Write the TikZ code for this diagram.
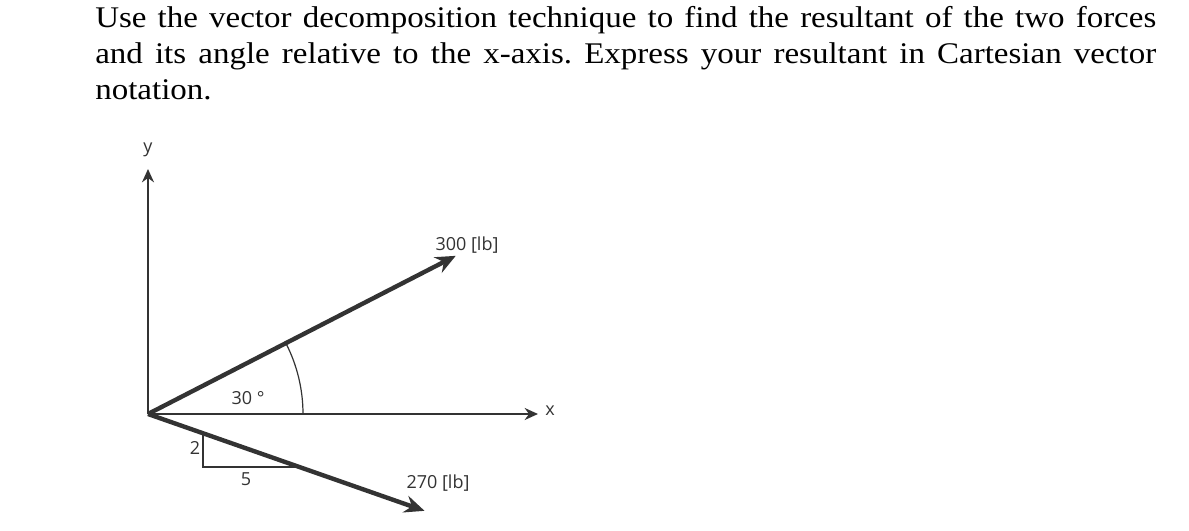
\documentclass[tikz,border=0pt]{standalone}
\usepackage{fontspec}
\setmainfont{Liberation Serif}[FakeStretch=1.1]
\setsansfont{Open Sans}
\usetikzlibrary{arrows.meta, positioning, calc}
\definecolor{ink}{HTML}{333333}
\tikzstyle{axis} = [draw=ink, line width=1.4pt, -{Stealth[length=10pt, width=9pt]}]
\tikzstyle{force} = [draw=ink, line width=3.3pt, -{Stealth[length=15pt, width=13pt, inset=5pt]}]
\tikzstyle{thin} = [draw=ink, line width=0.9pt]
\tikzstyle{label} = [text=ink, font=\sffamily\fontsize{13.5}{16}\selectfont, inner sep=0pt]

\begin{document}
\frenchspacing
\begin{tikzpicture}[x=0.75pt, y=0.75pt]
	\useasboundingbox (0,0) rectangle (1189,531);

	% Question text
	\node (question) [anchor=north west, inner sep=0pt, text width=795.75pt, align=justify,
		font=\fontsize{22.5}{27}\selectfont] at (95,524.5)
		{Use the vector decomposition technique to find the resultant of the two forces\linebreak
		and its angle relative to the x-axis. Express your resultant in Cartesian vector\linebreak
		notation.};

	% Points
	\coordinate (O) at (148,117);
	\coordinate (ytip) at (148,362);
	\coordinate (xtip) at (538,117);
	\coordinate (Fa) at ($(O)+(27.2:346)$);
	\coordinate (Fb) at ($(O)+(-19.3:293)$);
	\coordinate (slopetop) at (203,97.7);
	\coordinate (slopecorner) at (203,64);
	\coordinate (slopeend) at (299.4,64);

	% Axes
	\draw [axis] (O) -- (ytip);
	\draw [axis] (O) -- (xtip);
	\node (ylabel) [label] at (148,381) {y};
	\node (xlabel) [label] at (550,120) {x};

	% Slope triangle
	\draw [thin] (slopetop) -- (slopecorner) -- (slopeend);
	\node (rise) [label] at (195,83) {2};
	\node (run) [label] at (246,52) {5};

	% Angle
	\draw [thin] ($(O)+(0:155)$) arc [start angle=0, end angle=27.2, radius=155];
	\node (angle) [label] at (248,133) {30 °};

	% Forces
	\draw [force] (O) -- (Fa);
	\draw [force] (O) -- (Fb);
	\node (Falabel) [label] at (467,286) {300 [lb]};
	\node (Fblabel) [label] at (438,48) {270 [lb]};

\end{tikzpicture}
\end{document}
